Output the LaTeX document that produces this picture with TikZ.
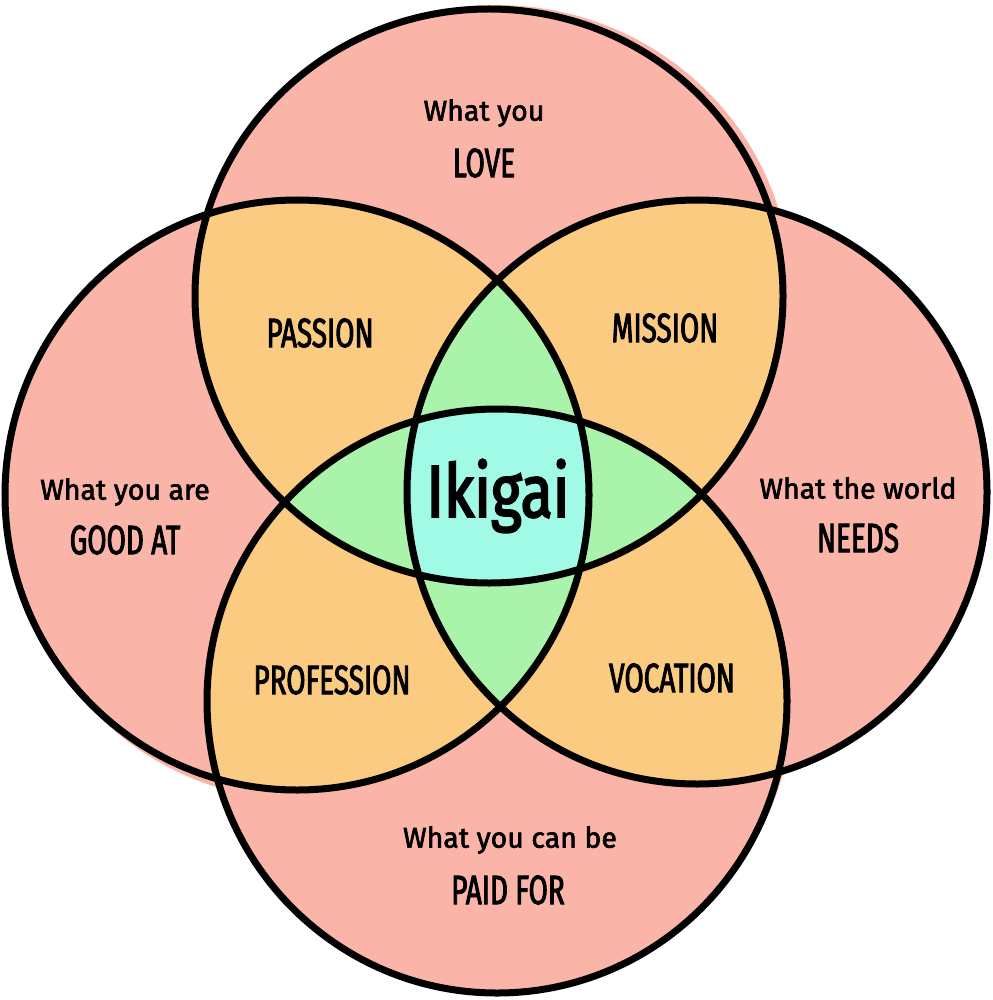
\documentclass[tikz,border=0pt]{standalone}
\usepackage{fontspec}
\newfontfamily\hand[FakeBold=2.2]{Fira Sans}
\newfontfamily\handcaps[FakeStretch=0.68,FakeBold=2.2]{Fira Sans}
\newfontfamily\handbig[FakeStretch=0.8,FakeBold=2.6]{Fira Sans}
\definecolor{pinkfill}{HTML}{FAB4A8}
\definecolor{orangefill}{HTML}{FBCB82}
\definecolor{greenfill}{HTML}{AAF3AA}
\definecolor{cyanfill}{HTML}{A0FAE6}
\def\CT{(489,296) ellipse [x radius=294pt, y radius=287pt]}
\def\CL{(297,495) ellipse [x radius=292pt, y radius=295pt]}
\def\CR{(697,492) ellipse [x radius=290pt, y radius=292pt]}
\def\CB{(497,701) ellipse [x radius=290pt, y radius=292pt]}
\tikzset{
  ring/.style={draw=black, line width=7pt},
  small/.style={font=\hand\fontsize{28.5}{32}\selectfont, align=center, text=black},
  caps/.style={font=\handcaps\fontsize{41}{44}\selectfont, align=center, text=black},
  big/.style={font=\handbig\fontsize{74}{78}\selectfont, text=black}
}
\begin{document}
\begin{tikzpicture}[x=1pt,y=-1pt]
\useasboundingbox (0,0) rectangle (992,1000);
% hand-drawn pink fills, slightly offset
\fill[pinkfill] (497,292) ellipse [x radius=294pt, y radius=287pt];
\fill[pinkfill] (302,508) ellipse [x radius=290pt, y radius=292pt];
\fill[pinkfill] (504,694) ellipse [x radius=290pt, y radius=292pt];
\fill[pinkfill] \CT; \fill[pinkfill] \CL; \fill[pinkfill] \CR; \fill[pinkfill] \CB;
% pairwise overlaps
\begin{scope}\clip \CT; \fill[orangefill] \CL; \fill[orangefill] \CR; \fill[orangefill] \CB; \end{scope}
\begin{scope}\clip \CB; \fill[orangefill] \CL; \fill[orangefill] \CR; \end{scope}
\begin{scope}\clip \CL; \fill[orangefill] \CR; \end{scope}
% triple overlaps
\begin{scope}\clip \CT; \clip \CL; \fill[greenfill] \CR; \fill[greenfill] \CB; \end{scope}
\begin{scope}\clip \CB; \clip \CR; \fill[greenfill] \CT; \fill[greenfill] \CL; \end{scope}
% all four
\begin{scope}\clip \CT; \clip \CL; \clip \CR; \fill[cyanfill] \CB; \end{scope}
% outlines
\draw[ring] \CT; \draw[ring] \CL; \draw[ring] \CR; \draw[ring] \CB;
% labels
\node[small] (love1) at (484,113) {What you};
\node[caps] (love2) at (484,163) {LOVE};
\node[small] (good1) at (125,492) {What you are};
\node[caps] (good2) at (125,540) {GOOD AT};
\node[small] (need1) at (858,488) {What the world};
\node[caps] (need2) at (858,538) {NEEDS};
\node[small] (paid1) at (510,840) {What you can be};
\node[caps] (paid2) at (508,890) {PAID FOR};
\node[caps] (passion) at (320,333) {PASSION};
\node[caps] (mission) at (665,328) {MISSION};
\node[caps] (profession) at (332,680) {PROFESSION};
\node[caps] (vocation) at (672,678) {VOCATION};
\node[big] (ikigai) at (498,496) {Ikigai};
\end{tikzpicture}
\end{document}
